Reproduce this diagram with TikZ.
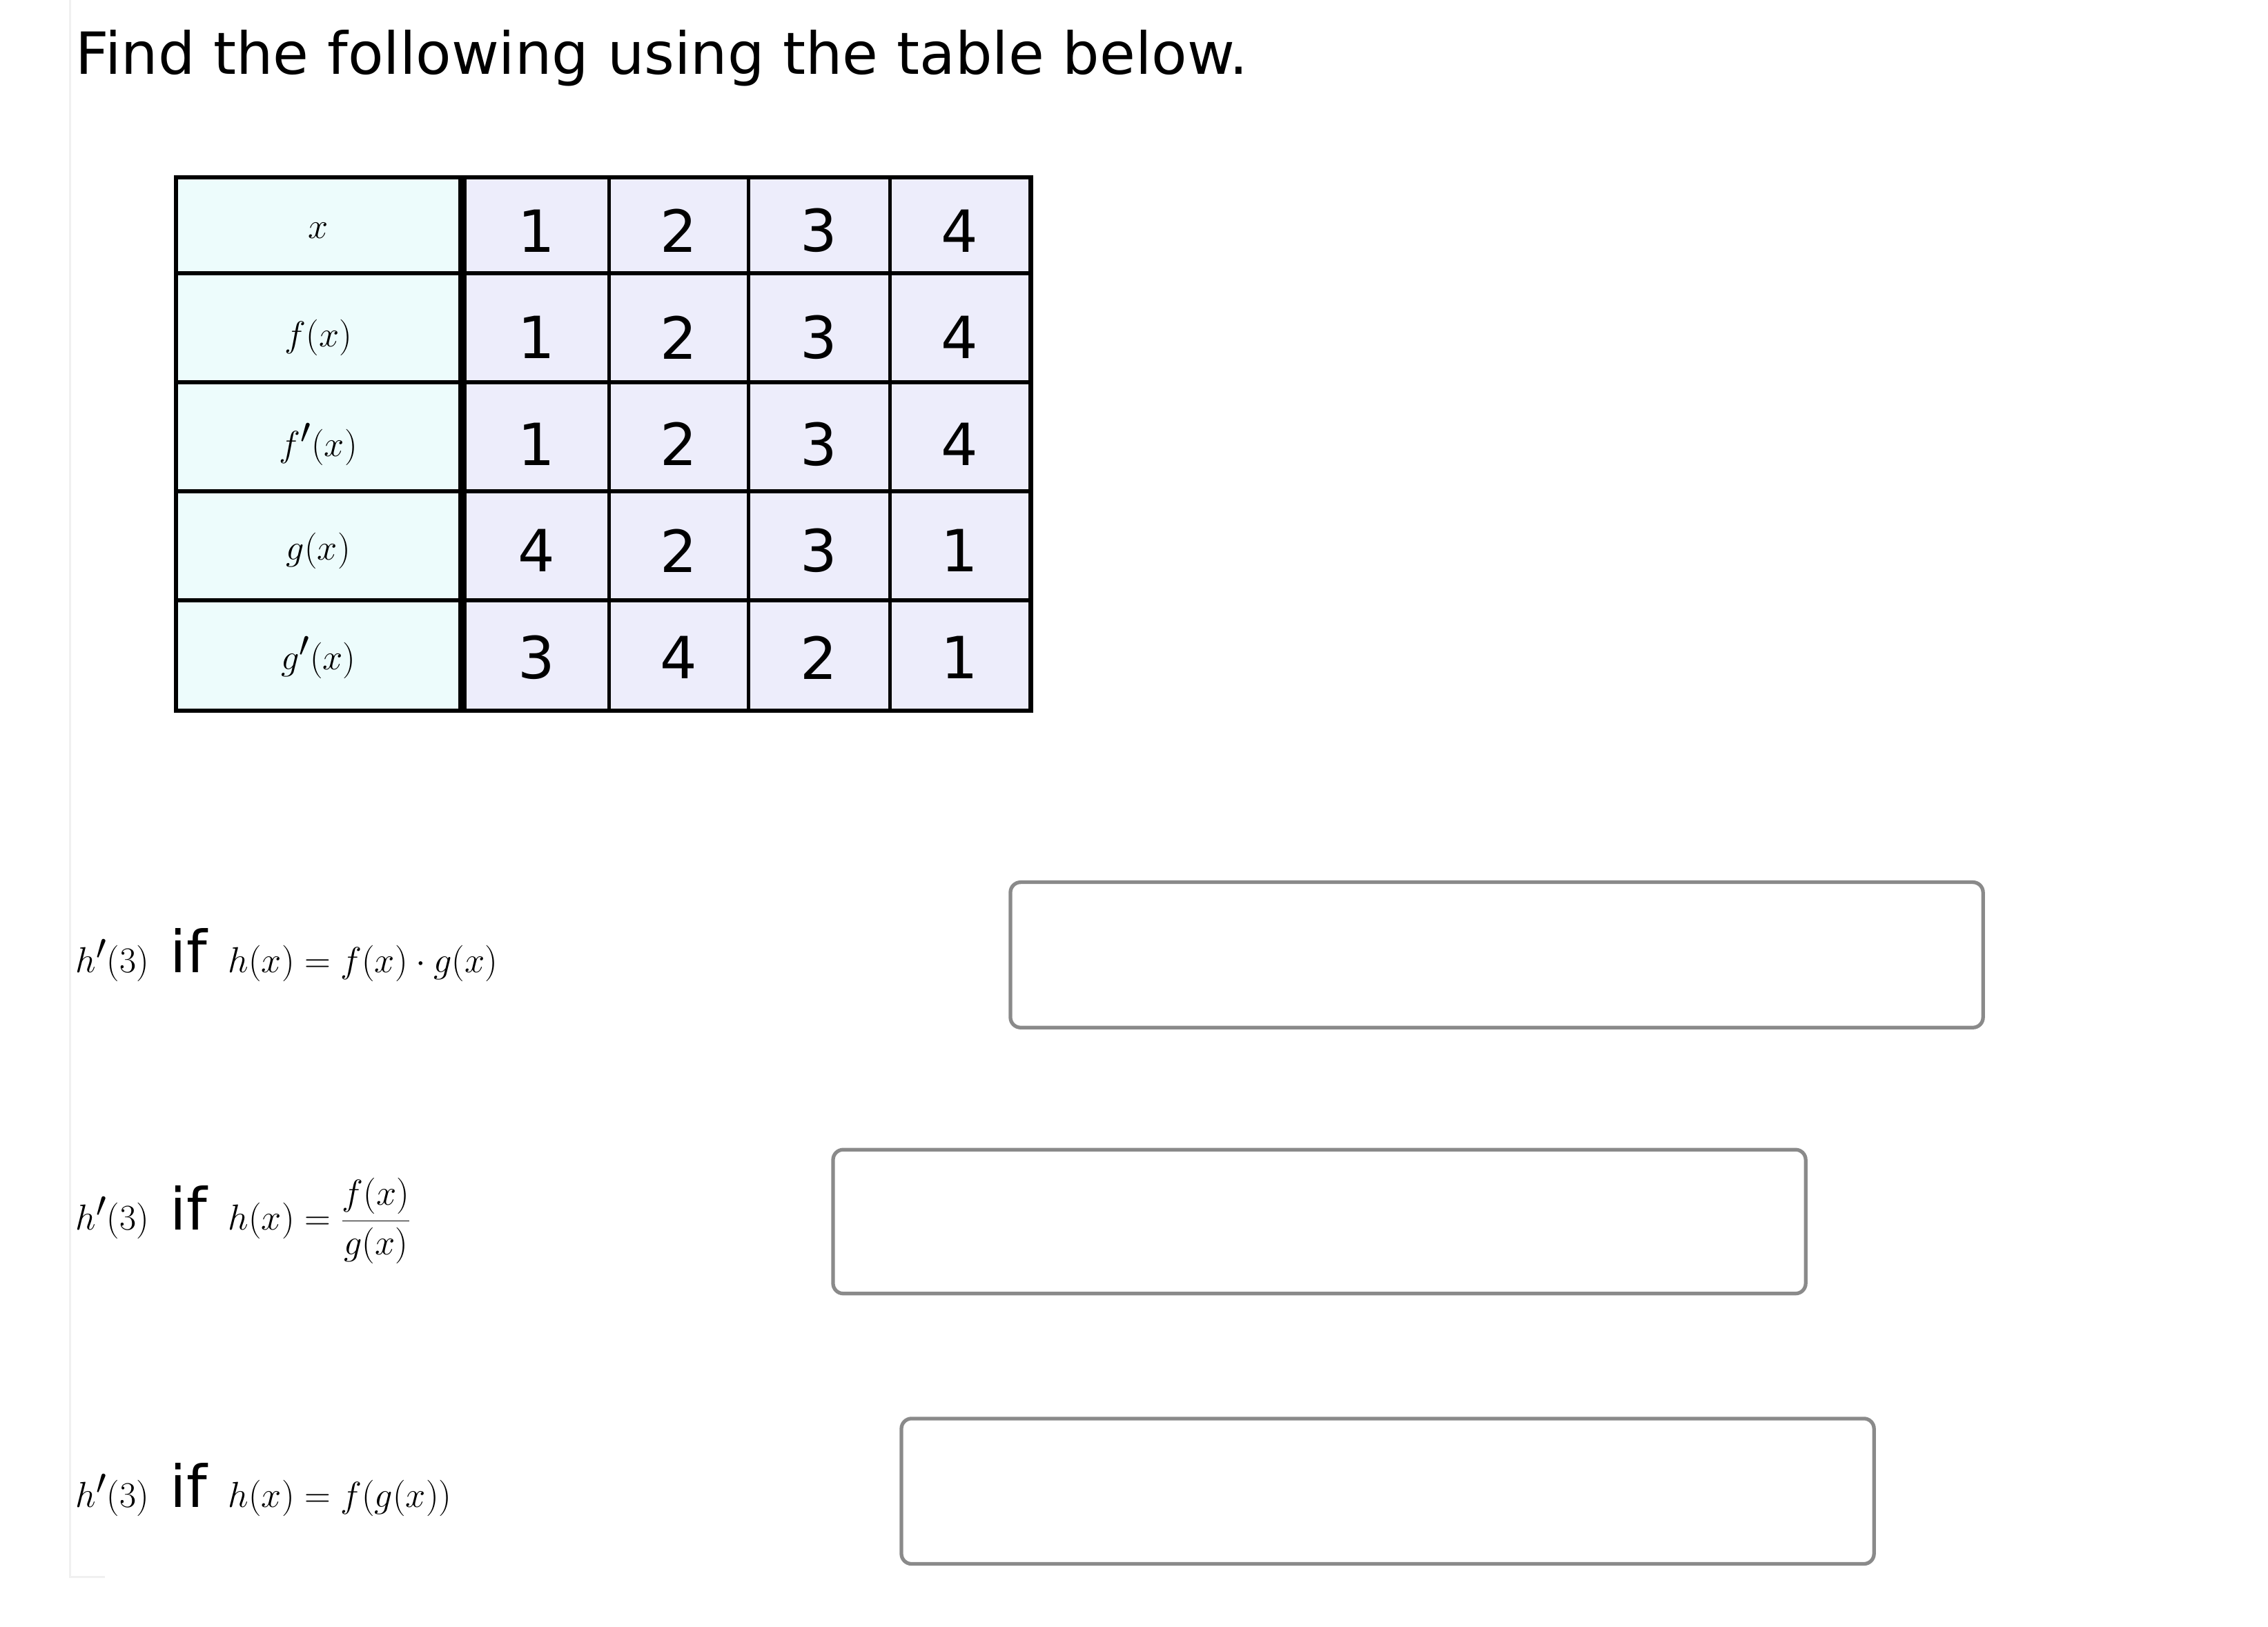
\documentclass[tikz,border=0pt]{standalone}
\usepackage[no-math]{fontspec}
\setmainfont{DejaVu Sans}
\definecolor{headcol}{HTML}{EDFCFC}
\definecolor{cellcol}{HTML}{EDEDFB}
\definecolor{boxcol}{HTML}{8A8A8A}
\tikzset{
  ansbox/.style={draw=boxcol,line width=2.5pt,rounded corners=7pt},
  numtxt/.style={font=\fontsize{40}{48}\selectfont},
  mathtxt/.style={font=\fontsize{46}{54}\selectfont,anchor=west,inner sep=0pt}
}
\begin{document}
\begin{tikzpicture}[x=1pt,y=-1pt]
  \useasboundingbox (0,0) rectangle (1560,1119);
  % faint page edge
  \draw[black!6,line width=1.5pt] (48,0) -- (48,1085) -- (72,1085);
  \node[anchor=west,inner sep=0pt,font=\fontsize{40}{48}\selectfont] (title) at (52,40) {Find the following using the table below.};
  % table
  \fill[headcol] (121,122) rectangle (318,489);
  \fill[cellcol] (318,122) rectangle (709,489);
  \foreach \y in {188,263,338,413}
    \draw[line width=2.5pt] (121,\y) -- (709,\y);
  \foreach \x in {419,515,612}
    \draw[line width=2.5pt] (\x,122) -- (\x,489);
  \draw[line width=3pt] (121,122) rectangle (709,489);
  \draw[line width=6pt] (318,122) -- (318,489);
  \foreach \lab [count=\r] in {x,f(x),f'(x),g(x),g'(x)}
    \node[font=\fontsize{50}{56}\selectfont] (h\r) at (219,{122+(\r-0.5)*73.4}) {$\lab$};
  \foreach \a/\b/\c/\d [count=\r] in {1/2/3/4,1/2/3/4,1/2/3/4,4/2/3/1,3/4/2/1}{
    \node[numtxt] (c\r a) at (369,{122+(\r-0.5)*73.4}) {\a};
    \node[numtxt] (c\r b) at (467,{122+(\r-0.5)*73.4}) {\b};
    \node[numtxt] (c\r c) at (563,{122+(\r-0.5)*73.4}) {\c};
    \node[numtxt] (c\r d) at (660,{122+(\r-0.5)*73.4}) {\d};
  }
  % questions
  \node[mathtxt] (q1) at (52,657) {$h'(3)$ {\fontsize{40}{48}\selectfont if} $h(x)=f(x)\cdot g(x)$};
  \node[mathtxt] (q2) at (52,840) {$h'(3)$ {\fontsize{40}{48}\selectfont if} $h(x)=\displaystyle\frac{f(x)}{g(x)}$};
  \node[mathtxt] (q3) at (52,1025) {$h'(3)$ {\fontsize{40}{48}\selectfont if} $h(x)=f(g(x))$};
  \draw[ansbox] (695,607) rectangle (1364,707);
  \draw[ansbox] (573,791) rectangle (1242,890);
  \draw[ansbox] (620,976) rectangle (1289,1076);
\end{tikzpicture}
\end{document}
